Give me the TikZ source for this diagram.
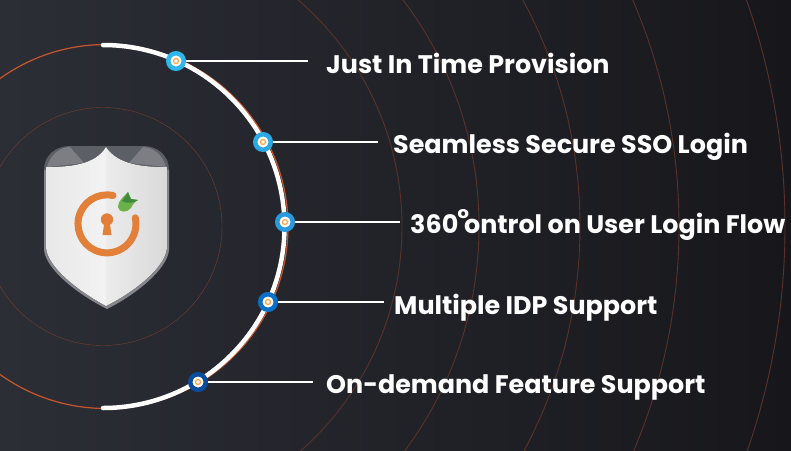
\documentclass[tikz,border=0pt]{standalone}
\usepackage{xcolor}
\usepackage{fontspec}
\setmainfont{Poppins}
\definecolor{bgleft}{HTML}{2C2E36}
\definecolor{bgright}{HTML}{17171B}
\definecolor{ringfaint}{HTML}{59332A}
\definecolor{ringmid}{HTML}{74402E}
\definecolor{ringhot}{HTML}{C9562A}
\definecolor{ballA}{HTML}{2FB6EA}
\definecolor{ballB}{HTML}{2CA8E4}
\definecolor{ballC}{HTML}{2A9ADF}
\definecolor{ballD}{HTML}{0B70C6}
\definecolor{ballE}{HTML}{0A4C9E}
\definecolor{keyorange}{HTML}{E2803A}
\definecolor{leafgreen}{HTML}{6CB04A}
\definecolor{leafdark}{HTML}{3F8A3C}
\definecolor{backgray}{HTML}{5C5F66}
\definecolor{cornergray}{HTML}{7C7E84}
\definecolor{edgegray}{HTML}{85868B}
\tikzset{
  ball/.style={circle,fill=white,draw=#1,line width=4.5pt,minimum size=15.5pt,inner sep=0pt},
  dot/.style={circle,fill=white,draw=orange!70!white,line width=1.3pt,minimum size=5pt,inner sep=0pt},
  leader/.style={white,line width=2pt},
  ring/.style={ringfaint,line width=0.9pt},
  caption/.style={anchor=base west,text=white,font=\fontsize{25.4}{30}\selectfont\bfseries,inner sep=0pt}
}
\begin{document}
\begin{tikzpicture}[x=1pt,y=-1pt]
            \useasboundingbox (0,0) rectangle (791,450);
            \clip (0,0) rectangle (791,450);
            \shade[left color=bgleft,right color=bgright] (0,0) rectangle (791,450);
            % rings
            \coordinate (hub) at (103,226.5);
            \draw[ringmid] (hub) circle[radius=119pt];
            \draw[ring] (hub) circle[radius=299pt];
            \draw[ring] (hub) circle[radius=376pt];
            \draw[ring] (hub) circle[radius=477pt];
            \draw[ring] (hub) circle[radius=576pt];
            \draw[ring] (hub) circle[radius=682pt];
            \draw[ringhot,line width=1.2pt] (106,226.5) circle[radius=182pt];
            \coordinate (arctop) at (103,45);
            \draw[white,line width=4.5pt,line cap=round] (arctop) arc[start angle=90,end angle=-90,radius=181.5pt];
            % shield
            \fill[edgegray] (44,170) -- (169,170) -- (169,250) .. controls (167,270) and (135,295) .. (107,309) .. controls (79,295) and (46,270) .. (44,250) -- cycle;
            \fill[backgray] (44,170) .. controls (44,155) and (56,146) .. (70,146) -- (143,146) .. controls (157,146) and (169,155) .. (169,170) -- cycle;
            \fill[cornergray] (47,167) .. controls (50,155) and (60,147) .. (70,147) -- (84,163) -- cycle;
            \fill[cornergray] (166,167) .. controls (163,155) and (153,147) .. (143,147) -- (129,163) -- cycle;
            \fill[left color=white!82!gray,right color=white!90!gray] (46,167) .. controls (70,167) and (95,165) .. (106,147) -- (106,306) .. controls (80,292) and (48,268) .. (46,248) -- cycle;
            \fill[left color=white!85!gray,right color=white!70!gray] (167,167) .. controls (143,167) and (118,165) .. (106,147) -- (106,306) .. controls (134,292) and (165,268) .. (167,248) -- cycle;
            % logo
            \coordinate (ringstart) at (113,195.5);
            \draw[keyorange,line width=7pt,line cap=round] (ringstart) arc[start angle=78,end angle=372,radius=29pt];
            \fill[keyorange] (107,219.5) circle[radius=6.2pt];
            \fill[keyorange] (104.5,221) -- (109.5,221) -- (111.5,235) -- (102.5,235) -- cycle;
            \fill[leafgreen] (118,207) .. controls (118,200) and (124,197) .. (128,192) .. controls (129,195) and (130,197) .. (131,199) -- (138,200) .. controls (134,203) and (133,204) .. (131,208) .. controls (127,213) and (119,213) .. (118,207) -- cycle;
            \fill[leafdark] (122,201) .. controls (124,198) and (126,196) .. (128,192) .. controls (129,195) and (130,197) .. (131,199) -- (138,200) .. controls (133,203) and (127,204) .. (122,201) -- cycle;
            % balls
            \node (b1) at (176,61) [ball=ballA] {};
            \node (b2) at (263,142) [ball=ballB] {};
            \node (b3) at (285,222) [ball=ballC] {};
            \node (b4) at (268,302) [ball=ballD] {};
            \node (b5) at (198,382) [ball=ballE] {};
            \node (d1) at (b1) [dot] {};
            \node (d2) at (b2) [dot] {};
            \node (d3) at (b3) [dot] {};
            \node (d4) at (b4) [dot] {};
            \node (d5) at (b5) [dot] {};
            % leaders
            \coordinate (e1) at (308,61);
            \coordinate (e2) at (378,142);
            \coordinate (e3) at (400,222);
            \coordinate (e4) at (384,302);
            \coordinate (e5) at (313,382);
            \draw[leader] (b1) -- (e1) (b2) -- (e2) (b3) -- (e3) (b4) -- (e4) (b5) -- (e5);
            % captions
            \node (t1) at (326,73) [caption] {Just In Time Provision};
            \node (t2) at (393,153) [caption] {Seamless Secure SSO Login};
            \node (t3) at (410,233) [caption] {360\kern-1pt\raisebox{6pt}{°}\kern-5pt ontrol on User Login Flow};
            \node (t4) at (394,314) [caption] {Multiple IDP Support};
            \node (t5) at (326,393) [caption] {On-demand Feature Support};
        \end{tikzpicture}
\end{document}
